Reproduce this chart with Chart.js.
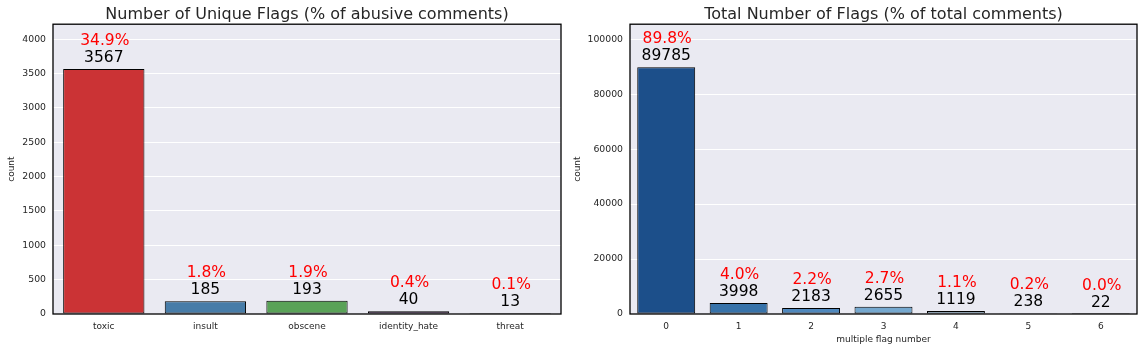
<!DOCTYPE html>
<html><head><meta charset="utf-8">
<script src="https://cdn.jsdelivr.net/npm/chart.js@4/dist/chart.umd.min.js"></script>
<style>
html,body{margin:0;padding:0;background:#fff;width:1144px;height:352px;overflow:hidden}
.box{position:absolute;top:0;height:352px}
</style></head><body>
<div class="box" style="left:0;width:572px"><canvas id="c1"></canvas></div>
<div class="box" style="left:572px;width:572px"><canvas id="c2"></canvas></div>
<script>
const uniqueCategories = ['toxic','insult','obscene','identity_hate','threat'];
const uniqueCounts = [3567,185,193,40,13];
const uniquePercents = ['34.9%','1.8%','1.9%','0.4%','0.1%'];
const uniqueColors = ['#cb3335','#477ca8','#59a257','#90599b','#df7f20'];
const uniqueTicks = [0,500,1000,1500,2000,2500,3000,3500,4000];

const flagCategories = ['0','1','2','3','4','5','6'];
const flagCounts = [89785,3998,2183,2655,1119,238,22];
const flagPercents = ['89.8%','4.0%','2.2%','2.7%','1.1%','0.2%','0.0%'];
const flagColors = ['#1c4f8a','#3772a9','#4f88bd','#75a8cf','#a3c6e0','#c6dbef','#deebf7'];
const flagTicks = [0,20000,40000,60000,80000,100000];

const FONT = "'DejaVu Sans', sans-serif";

const bgPlugin = {
  id:'bg',
  beforeDraw(chart){
    const {ctx, chartArea:a} = chart;
    ctx.save(); ctx.fillStyle='#eaeaf2';
    ctx.fillRect(a.left,a.top,a.right-a.left,a.bottom-a.top);
    ctx.restore();
  },
  afterDatasetsDraw(chart){
    const {ctx, chartArea:a} = chart;
    ctx.save(); ctx.strokeStyle='#000'; ctx.lineWidth=1.3;
    ctx.strokeRect(a.left,a.top,a.right-a.left,a.bottom-a.top);
    ctx.restore();
    const ds = chart.data.datasets[0];
    const meta = chart.getDatasetMeta(0);
    ctx.save(); ctx.textAlign='center'; ctx.textBaseline='middle';
    ctx.font = "15.5px " + FONT;
    meta.data.forEach((bar,i)=>{
      ctx.fillStyle='#000';
      ctx.fillText(String(ds.data[i]), bar.x, bar.y-11);
      ctx.fillStyle='#ff0000';
      ctx.fillText(ds.pct[i], bar.x+1, bar.y-28);
    });
    ctx.restore();
  }
};

function makeChart(id, cats, vals, pcts, colors, title, ymax, tickVals, yw, rightPad, xTitle, yTitlePad){
  new Chart(document.getElementById(id), {
    type:'bar',
    data:{labels:cats, datasets:[{data:vals, pct:pcts, backgroundColor:colors, borderColor:'#000', borderWidth:1, borderSkipped:false, categoryPercentage:0.8, barPercentage:1}]},
    options:{
      responsive:true, maintainAspectRatio:false, animation:false,
      layout:{padding:{left:0,right:rightPad,top:0,bottom:0}},
      plugins:{
        legend:{display:false}, tooltip:{enabled:false},
        title:{display:true, text:title, fullSize:false, color:'#262626', font:{family:FONT,size:16,weight:'normal'}, padding:{top:5,bottom:0}}
      },
      scales:{
        x:{
          offset:true,
          grid:{display:false, drawTicks:false},
          border:{display:false},
          ticks:{color:'#262626', font:{family:FONT,size:9}, padding:7, maxRotation:0},
          title:{display:!!xTitle, text:xTitle||'', color:'#262626', font:{family:FONT,size:9}, padding:{top:0,bottom:7}},
          afterFit(s){ s.height = 38; }
        },
        y:{
          min:0, max:ymax,
          grid:{color:'#ffffff', lineWidth:1, drawTicks:false},
          border:{display:false},
          ticks:{color:'#262626', font:{family:FONT,size:9.3}, padding:7, callback:v=>String(v)},
          afterBuildTicks(s){ s.ticks = tickVals.map(v=>({value:v})); },
          title:{display:true, text:'count', color:'#262626', font:{family:FONT,size:9}, padding:{top:yTitlePad,bottom:0}},
          afterFit(s){ s.width = yw; }
        }
      }
    },
    plugins:[bgPlugin]
  });
}

makeChart('c1', uniqueCategories, uniqueCounts, uniquePercents, uniqueColors,
  'Number of Unique Flags (% of abusive comments)', 4218, uniqueTicks, 53, 11, null, 6);
makeChart('c2', flagCategories, flagCounts, flagPercents, flagColors,
  'Total Number of Flags (% of total comments)', 105450, flagTicks, 58, 7, 'multiple flag number', 0);
</script>
</body></html>
